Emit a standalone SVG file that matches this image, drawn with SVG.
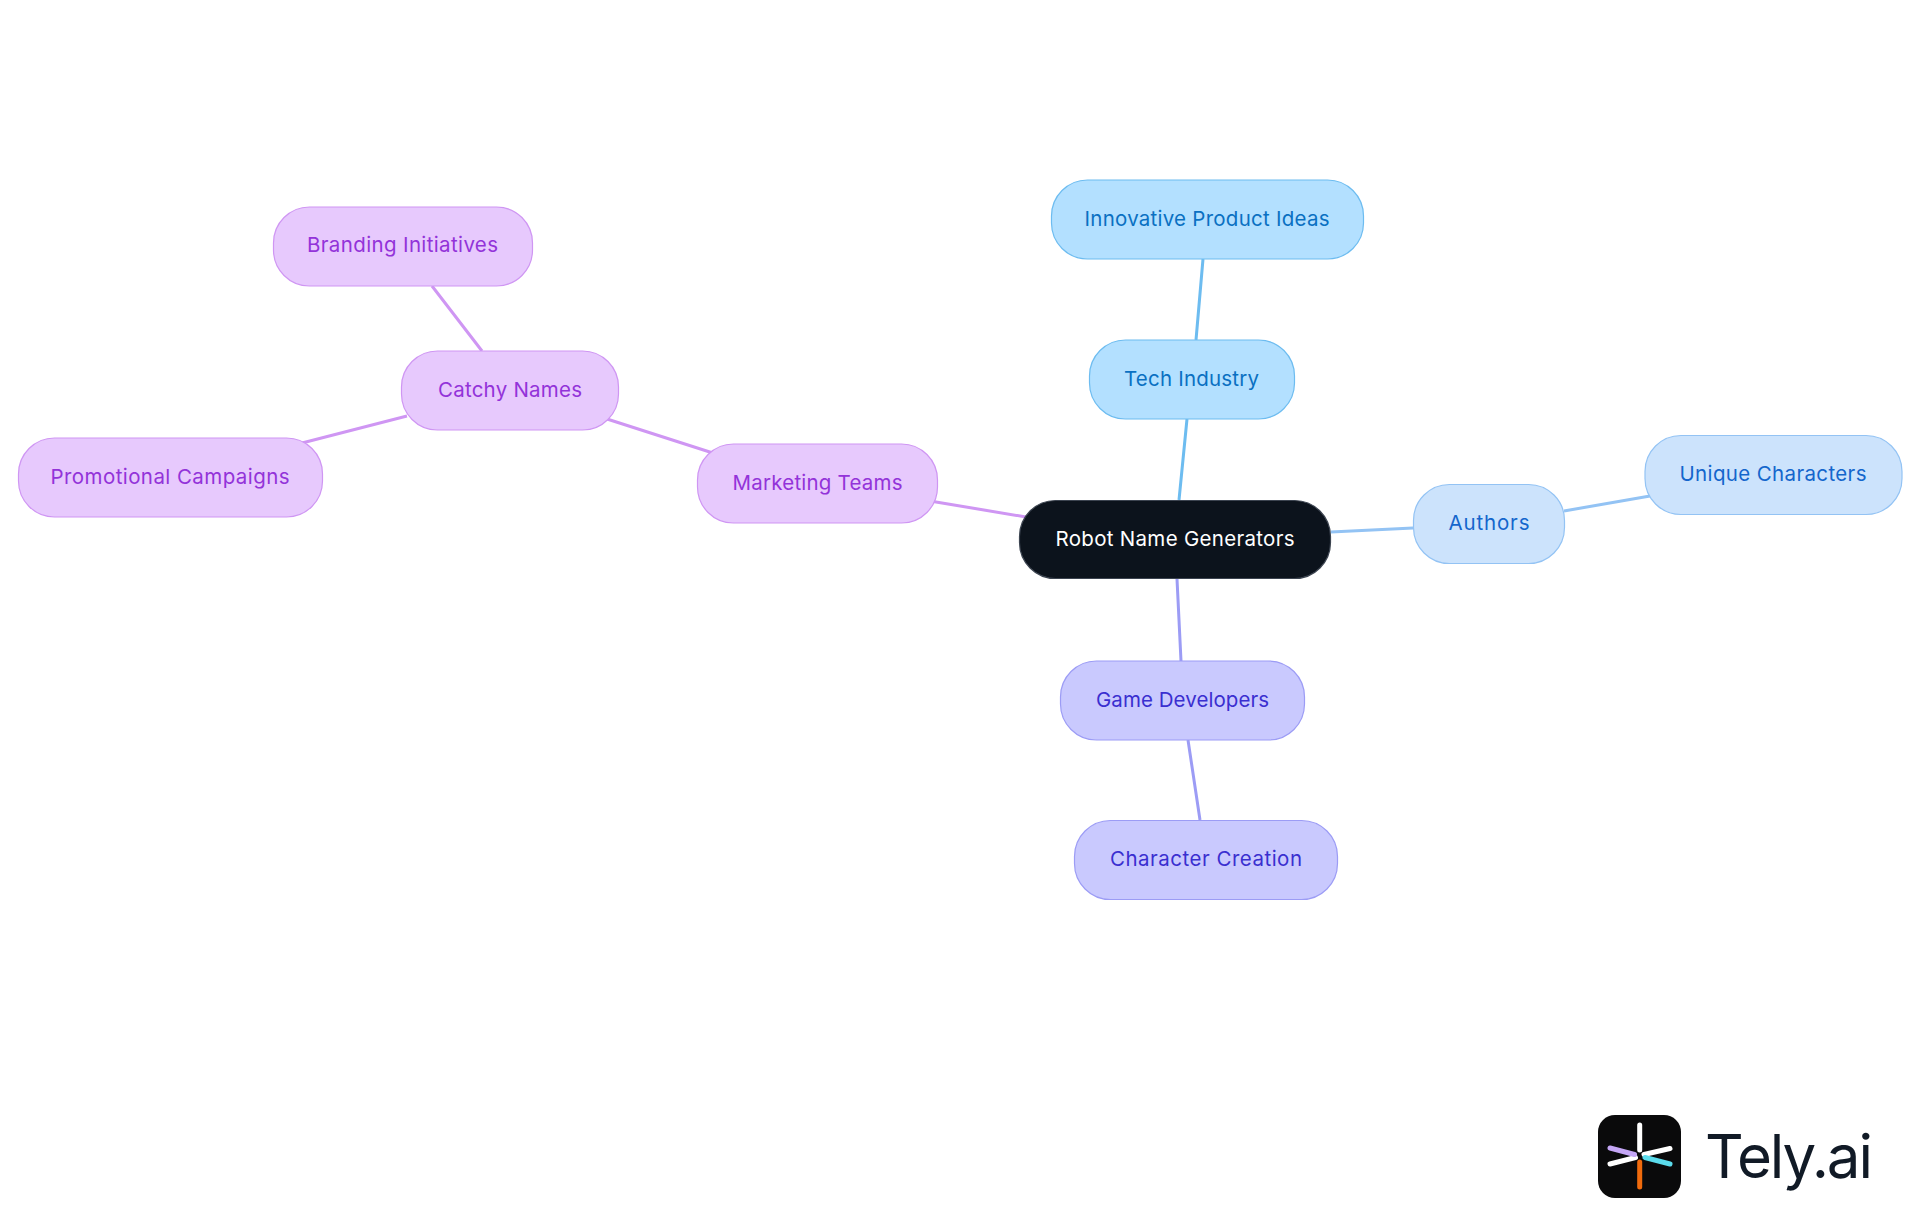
<svg xmlns="http://www.w3.org/2000/svg" width="1920" height="1215" viewBox="0 0 1920 1215">
<style>
text{font-family:"Inter","Noto Sans","Liberation Sans",sans-serif;font-size:20.5px;font-weight:400;text-anchor:middle;dominant-baseline:central}
.n{stroke-width:1.2}
.c{fill:none;stroke-width:3}
.p rect{fill:#e7c9fd;stroke:#cf96f3}.p text{fill:#9333d9}
.t rect{fill:#b3e0ff;stroke:#6dbcf0}.t text{fill:#0a70c2}
.a rect{fill:#cce3fc;stroke:#93c3f4}.a text{fill:#1466cc}
.g rect{fill:#c9c9fe;stroke:#9c9cf5}.g text{fill:#3a2fd0}
</style>
<rect width="1920" height="1215" fill="#fff"/>
<g id="connectors" class="c">
<path class="c" stroke="#cf96f3" d="M1026 517L930 501M716 454L607 419M407 416L302 443M482 351L432 286"/>
<path class="c" stroke="#6dbcf0" d="M1179 500L1187 419M1196 340L1203 259"/>
<path class="c" stroke="#93c3f4" d="M1331 532L1413 528M1564 511L1650 496"/>
<path class="c" stroke="#9c9cf5" d="M1177 579L1181 661M1188 740L1200 820"/>
</g>
<g id="root"><rect x="1019.5" y="500.5" width="311" height="78" rx="36" fill="#0c131c" stroke="#3c4450" stroke-width="1.2"/><text x="1175" y="538" fill="#fff" textLength="239">Robot Name Generators</text></g>
<g id="marketing" class="p"><rect class="n" x="697.5" y="444" width="240" height="79" rx="36"/><text x="817.5" y="482" textLength="170">Marketing Teams</text></g>
<g id="catchy" class="p"><rect class="n" x="401.5" y="351" width="217" height="79" rx="36"/><text x="510" y="389" textLength="144">Catchy Names</text></g>
<g id="branding" class="p"><rect class="n" x="273.5" y="207" width="259" height="79" rx="36"/><text x="402.500" y="244" textLength="191">Branding Initiatives</text></g>
<g id="promotional" class="p"><rect class="n" x="18.5" y="438" width="304" height="79" rx="36"/><text x="170" y="476" textLength="239">Promotional Campaigns</text></g>
<g id="tech" class="t"><rect class="n" x="1089.5" y="340" width="205" height="79" rx="36"/><text x="1191.500" y="378" textLength="135">Tech Industry</text></g>
<g id="innovative" class="t"><rect class="n" x="1051.5" y="180" width="312" height="79" rx="36"/><text x="1207" y="218" textLength="245">Innovative Product Ideas</text></g>
<g id="authors" class="a"><rect class="n" x="1413.5" y="484.500" width="151" height="79" rx="36"/><text x="1489" y="522" textLength="81">Authors</text></g>
<g id="unique" class="a"><rect class="n" x="1645" y="435.500" width="257" height="79" rx="36"/><text x="1773" y="473" textLength="187">Unique Characters</text></g>
<g id="game" class="g"><rect class="n" x="1060.5" y="661" width="244" height="79" rx="36"/><text x="1182.500" y="699" textLength="173">Game Developers</text></g>
<g id="character" class="g"><rect class="n" x="1074.5" y="820.500" width="263" height="79" rx="36"/><text x="1206" y="858" textLength="192">Character Creation</text></g>
<g id="logo">
<rect x="1598" y="1115" width="83" height="83" rx="17" fill="#0a0a0b"/>
<g fill="none" stroke-width="5" stroke-linecap="round">
<path stroke="#fff" d="M1639.700 1150V1125M1644 1154.500L1670 1148.500M1635.500 1157.500L1610 1164"/>
<path stroke="#c4a6f5" d="M1634.500 1154.500L1610 1148"/>
<path stroke="#5bdcec" d="M1645 1157.500L1670 1164"/>
<path stroke="#f06a0c" d="M1639.700 1162V1187"/>
</g>
<text x="1705" y="1178" textLength="168" style="font-size:60px;font-weight:400;text-anchor:start;dominant-baseline:alphabetic;fill:#111a26">Tely.ai</text>
</g>
</svg>
